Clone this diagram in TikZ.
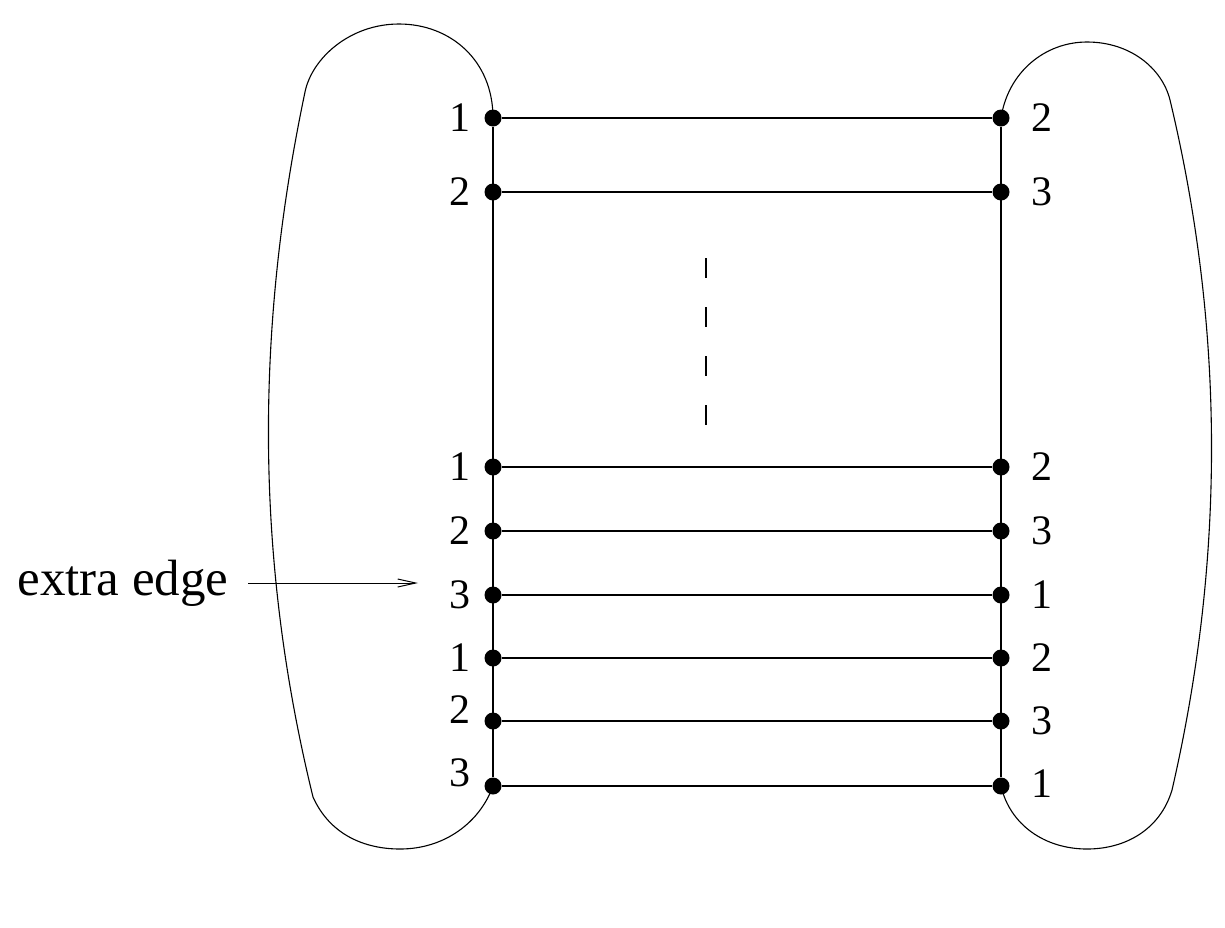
\documentclass[tikz,border=0pt]{standalone}
\usepackage{fontspec}
\setmainfont{Liberation Serif}
\usepackage{tikz}
\usetikzlibrary{arrows.meta}

\tikzset{
    dot/.style={circle, fill, inner sep=0pt, minimum size=8.5pt},
    num/.style={font=\fontsize{21}{21}\selectfont, inner sep=0pt},
    rung/.style={line width=0.55pt},
    thickrung/.style={line width=0.9pt},
}

\begin{document}
\begin{tikzpicture}[x=0.5pt, y=-0.5pt, line width=0.55pt]
    \useasboundingbox (0,0) rectangle (1225,927);
    % dots, numbers and rungs
    \foreach \i/\y/\a/\ay/\b/\by/\w in {1/118/1/118/2/118/thickrung, 2/192/2/192/3/192/rung,
        3/467/1/467/2/467/rung, 4/531/2/531/3/531/thickrung, 5/595/3/595/1/595/rung,
        6/658/1/658/2/658/thickrung, 7/721/2/710/3/721/rung, 8/786/3/773/1/784/rung} {
        \node[dot] (l\i) at (493,\y) {};
        \node[dot] (r\i) at (1001,\y) {};
        \node[num] (la\i) at (460,\ay) {\a};
        \node[num] (ra\i) at (1042,\by) {\b};
        \draw[\w] (l\i) -- (r\i);
    }
    \draw (l1) -- (l8);
    \draw (r1) -- (r8);
    \draw[dash pattern=on 10pt off 14.5pt] (706,258) -- (706,425);
    % left loop
    \draw (l1.center) .. controls (493,60) and (450,24) .. (399,24)
        .. controls (350,24) and (312,58) .. (305,92)
        .. controls (255,330) and (255,560) .. (313,797)
        .. controls (330,835) and (365,849) .. (400,849)
        .. controls (445,849) and (480,822) .. (l8.center);
    % right loop
    \draw (r1.center) .. controls (1008,72) and (1045,42) .. (1087,42)
        .. controls (1130,42) and (1162,68) .. (1170,100)
        .. controls (1225,330) and (1225,560) .. (1172,790)
        .. controls (1160,830) and (1125,849) .. (1087,849)
        .. controls (1045,849) and (1010,825) .. (r8.center);
    % label
    \node[font=\fontsize{25.5}{25.5}\selectfont, inner sep=0pt, anchor=base west] (xlabel) at (17,595) {extra edge};
    \coordinate (xs) at (248,583);
    \coordinate (xt) at (418,583);
    \draw[-{Straight Barb[length=9pt,width=4pt]}, line width=0.5pt] (xs) -- (xt);
\end{tikzpicture}
\end{document}
